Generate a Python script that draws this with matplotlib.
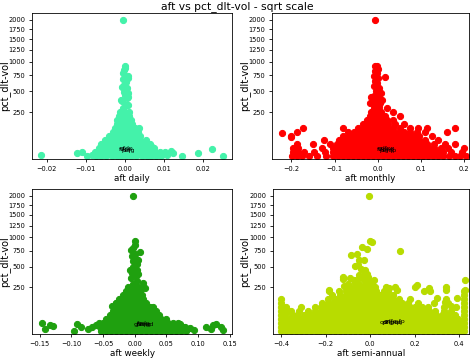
import numpy as np
import matplotlib
matplotlib.use("Agg")
import matplotlib.pyplot as plt

TITLE = "aft vs pct_dlt-vol - sqrt scale"
YLABEL = "pct_dlt-vol"
Y_TICKS = [250, 500, 750, 1000, 1250, 1500, 1750, 2000]
ROW_Y = [4.5, 11.5, 21.5, 35, 51, 70, 93, 119, 148, 180, 215, 254]

# ---------------- daily ----------------
daily_rows_x = [
    [-0.0073, -0.0060, -0.0047, -0.0034, -0.0021, -0.0009, 0.0004, 0.0017, 0.0030, 0.0043, 0.0056, 0.0068, 0.0081, 0.0094],
    [-0.0077, -0.0064, -0.0051, -0.0038, -0.0026, -0.0013, 0.0000, 0.0013, 0.0026, 0.0038, 0.0051, 0.0064, 0.0077, 0.0090, 0.0103],
    [-0.0066, -0.0053, -0.0040, -0.0027, -0.0015, -0.0002, 0.0011, 0.0024, 0.0037, 0.0050, 0.0063, 0.0076],
    [-0.0060, -0.0047, -0.0034, -0.0021, -0.0008, 0.0005, 0.0018, 0.0031, 0.0044, 0.0057, 0.0064],
    [-0.0051, -0.0038, -0.0025, -0.0012, 0.0001, 0.0014, 0.0027, 0.0040, 0.0055],
    [-0.0040, -0.0027, -0.0014, -0.0001, 0.0012, 0.0025, 0.0038],
    [-0.0030, -0.0017, -0.0004, 0.0009, 0.0022, 0.0034],
    [-0.0026, -0.0013, 0.0000, 0.0013, 0.0026, 0.0037],
    [-0.0021, -0.0008, 0.0005, 0.0018],
    [-0.0019, -0.0006, 0.0007, 0.0016],
    [-0.0014, -0.0002, 0.0011],
    [-0.0012, 0.0001, 0.0010],
]
daily_extra = [
    (-0.0004, 290), (0.0003, 330), (-0.0006, 370), (0.0005, 410), (0.0000, 450),
    (-0.0003, 495), (0.0006, 540), (-0.0002, 590), (0.0002, 640), (-0.0005, 690),
    (0.0008, 740), (-0.0004, 790), (-0.0003, 840), (0.0000, 880), (0.0001, 920),
    (0.0008, 700), (-0.0008, 560), (0.0008, 480), (-0.0009, 380), (0.0009, 320),
    (0.0008, 420), (-0.0008, 260), (-0.0004, 2000),
    (-0.0214, 5), (-0.0122, 8.8), (-0.0111, 11), (-0.0097, 3.7), (0.0118, 13.5),
    (0.0124, 8), (0.0148, 4.5), (0.0188, 9), (0.0223, 19), (0.0252, 3.7),
    (0.0071, 25), (-0.0085, 6), (0.0108, 5),
]
daily_labels = [("fdgn", 0.0003, 17), ("plqg", 0.0008, 15), ("gfdp", 0.0005, 19)]

# ---------------- monthly ----------------
monthly_rows_x = [
    [-0.198, -0.187, -0.176, -0.16, -0.14, -0.12, -0.103, -0.092, -0.080, -0.069, -0.057, -0.046, -0.034, -0.023, -0.011, 0.000, 0.012, 0.023, 0.035, 0.046, 0.058, 0.069, 0.081, 0.092, 0.104, 0.115, 0.127, 0.138, 0.150, 0.165, 0.178, 0.19, 0.204],
    [-0.196, -0.184, -0.17, -0.148, -0.122, -0.105, -0.094, -0.083, -0.071, -0.060, -0.048, -0.037, -0.025, -0.014, -0.002, 0.009, 0.021, 0.032, 0.044, 0.055, 0.067, 0.078, 0.090, 0.101, 0.113, 0.124, 0.136, 0.15, 0.17, 0.195],
    [-0.197, -0.185, -0.13, -0.105, -0.09, -0.077, -0.066, -0.054, -0.043, -0.031, -0.020, -0.008, 0.003, 0.015, 0.026, 0.038, 0.049, 0.061, 0.072, 0.084, 0.095, 0.107, 0.118, 0.13, 0.145, 0.162, 0.2],
    [-0.188, -0.15, -0.11, -0.095, -0.083, -0.071, -0.060, -0.048, -0.037, -0.025, -0.014, -0.002, 0.009, 0.021, 0.032, 0.044, 0.055, 0.067, 0.078, 0.090, 0.101, 0.113, 0.13, 0.155, 0.178],
    [-0.125, -0.09, -0.077, -0.066, -0.054, -0.043, -0.031, -0.020, -0.008, 0.003, 0.015, 0.026, 0.038, 0.049, 0.061, 0.072, 0.084, 0.095, 0.11, 0.14],
    [-0.2, -0.08, -0.068, -0.057, -0.045, -0.034, -0.022, -0.011, 0.000, 0.012, 0.023, 0.035, 0.046, 0.058, 0.069, 0.081, 0.095, 0.125],
    [-0.188, -0.07, -0.055, -0.043, -0.032, -0.020, -0.009, 0.003, 0.014, 0.026, 0.037, 0.049, 0.06, 0.075, 0.09, 0.11, 0.16],
    [-0.174, -0.081, -0.045, -0.033, -0.022, -0.010, 0.001, 0.013, 0.024, 0.036, 0.05, 0.075, 0.092, 0.113, 0.178],
    [-0.035, -0.023, -0.012, 0.000, 0.011, 0.023, 0.04, 0.06],
    [-0.025, -0.013, -0.002, 0.01, 0.022, 0.035],
    [-0.018, -0.007, 0.005, 0.017, 0.05],
    [-0.015, -0.004, 0.008, 0.036],
]
monthly_extra = [
    (-0.223, 85), (-0.2, 63), (0.021, 290), (-0.006, 2000), (-0.006, 920), (-0.002, 920),
    (0.0154, 720), (-0.008, 290), (0.002, 300), (-0.01, 340), (0.004, 350), (-0.006, 390),
    (0.003, 410), (-0.009, 440), (0.0, 470), (-0.005, 510), (0.002, 540), (-0.008, 580),
    (-0.001, 620), (-0.006, 660), (0.001, 700), (-0.008, 740), (-0.003, 790), (-0.006, 830),
    (0.0, 860), (-0.018, 350), (0.01, 390), (-0.017, 420), (0.008, 470),
]
monthly_labels = [("fdgnq", 0.018, 17), ("plgqp", 0.024, 15), ("gdfpn", 0.02, 19)]

# ---------------- weekly ----------------
weekly_rows_x = [
    [-0.0526, -0.0447, -0.0368, -0.0289, -0.0211, -0.0132, -0.0053, 0.0026, 0.0105, 0.0184, 0.0263, 0.0342, 0.0421, 0.0500, 0.0579, 0.0658, 0.0737, 0.0816],
    [-0.055, -0.047, -0.039, -0.031, -0.024, -0.016, -0.008, 0.000, 0.008, 0.016, 0.024, 0.032, 0.039, 0.047, 0.055, 0.063, 0.071, 0.079],
    [-0.050, -0.042, -0.034, -0.026, -0.018, -0.011, -0.003, 0.005, 0.013, 0.021, 0.029, 0.037, 0.045, 0.053, 0.061, 0.069],
    [-0.045, -0.037, -0.029, -0.021, -0.013, -0.005, 0.003, 0.011, 0.019, 0.026, 0.034, 0.042, 0.05],
    [-0.039, -0.031, -0.024, -0.016, -0.008, 0.000, 0.008, 0.016, 0.024, 0.032, 0.039],
    [-0.034, -0.026, -0.018, -0.011, -0.003, 0.005, 0.013, 0.021, 0.029, 0.034],
    [-0.032, -0.024, -0.016, -0.008, 0.000, 0.008, 0.016, 0.024, 0.029],
    [-0.029, -0.021, -0.013, -0.005, 0.003, 0.011, 0.018],
    [-0.024, -0.016, -0.008, 0.000, 0.008, 0.013],
    [-0.018, -0.010, -0.002, 0.006, 0.011],
    [-0.013, -0.005, 0.003, 0.008],
    [-0.010, -0.002, 0.006, 0.013],
]
weekly_extra = [
    (-0.003, 290), (0.004, 320), (-0.005, 350), (0.002, 380), (-0.004, 420), (0.003, 460),
    (-0.002, 500), (0.004, 540), (-0.003, 580), (0.002, 620), (-0.004, 660), (0.001, 700),
    (-0.006, 760), (-0.002, 800), (0.0, 850), (0.0, 920), (0.0079, 732), (0.013, 293),
    (0.016, 242), (-0.017, 107), (-0.0026, 2000), (0.006, 400), (-0.007, 460), (0.006, 600),
    (-0.147, 21.6), (-0.141, 7.9), (-0.134, 16.6), (-0.129, 12.5), (-0.095, 4.8), (-0.091, 18),
    (-0.085, 12), (-0.074, 7), (-0.061, 15), (-0.057, 20), (-0.067, 10), (0.071, 18),
    (0.076, 12), (0.087, 9), (0.093, 6), (0.113, 12), (0.120, 8), (0.124, 15), (0.129, 18),
    (0.137, 10), (0.14, 5), (-0.03, 119), (-0.035, 100),
]
weekly_labels = [("gfdnq", 0.012, 18), ("plqgd", 0.016, 16), ("fgdp", 0.014, 20)]

# ---------------- semi-annual ----------------
semi_rows_x = [
    [-0.40, -0.378, -0.356, -0.334, -0.312, -0.29, -0.268, -0.246, -0.224, -0.202, -0.18, -0.158, -0.136, -0.114, -0.092, -0.07, -0.048, -0.026, -0.004, 0.018, 0.04, 0.062, 0.084, 0.106, 0.128, 0.15, 0.172, 0.194, 0.216, 0.238, 0.26, 0.282, 0.304, 0.326, 0.348, 0.37, 0.392, 0.41, 0.422],
    [-0.40, -0.385, -0.364, -0.342, -0.32, -0.298, -0.276, -0.254, -0.232, -0.21, -0.188, -0.166, -0.144, -0.122, -0.1, -0.078, -0.056, -0.034, -0.012, 0.01, 0.032, 0.054, 0.076, 0.098, 0.12, 0.142, 0.164, 0.186, 0.208, 0.23, 0.252, 0.274, 0.296, 0.318, 0.34, 0.362, 0.384, 0.406, 0.422],
    [-0.40, -0.375, -0.35, -0.33, -0.305, -0.28, -0.26, -0.24, -0.215, -0.195, -0.17, -0.15, -0.13, -0.108, -0.086, -0.064, -0.042, -0.02, 0.002, 0.024, 0.046, 0.068, 0.09, 0.112, 0.134, 0.156, 0.178, 0.2, 0.222, 0.244, 0.266, 0.288, 0.31, 0.332, 0.354, 0.376, 0.398, 0.422],
    [-0.40, -0.38, -0.36, -0.338, -0.316, -0.294, -0.27, -0.248, -0.225, -0.2, -0.178, -0.156, -0.134, -0.112, -0.09, -0.068, -0.046, -0.024, -0.002, 0.02, 0.042, 0.064, 0.086, 0.108, 0.13, 0.152, 0.174, 0.196, 0.218, 0.24, 0.262, 0.284, 0.306, 0.328, 0.35, 0.372, 0.394, 0.422],
    [-0.40, -0.385, -0.35, -0.33, -0.3, -0.28, -0.26, -0.235, -0.21, -0.19, -0.168, -0.146, -0.124, -0.102, -0.08, -0.058, -0.036, -0.014, 0.008, 0.03, 0.052, 0.074, 0.096, 0.118, 0.14, 0.162, 0.184, 0.206, 0.228, 0.25, 0.272, 0.294, 0.32, 0.35, 0.38, 0.422],
    [-0.40, -0.375, -0.355, -0.32, -0.28, -0.25, -0.22, -0.198, -0.176, -0.154, -0.132, -0.11, -0.088, -0.066, -0.044, -0.022, 0.0, 0.022, 0.044, 0.066, 0.088, 0.11, 0.132, 0.154, 0.176, 0.198, 0.22, 0.242, 0.264, 0.29, 0.33, 0.36, 0.422],
    [-0.40, -0.38, -0.31, -0.25, -0.22, -0.198, -0.176, -0.154, -0.132, -0.11, -0.088, -0.066, -0.044, -0.022, 0.0, 0.022, 0.044, 0.066, 0.088, 0.11, 0.132, 0.154, 0.176, 0.2, 0.23, 0.26, 0.33, 0.385, 0.422],
    [-0.40, -0.215, -0.19, -0.168, -0.146, -0.124, -0.102, -0.08, -0.058, -0.036, -0.014, 0.008, 0.03, 0.052, 0.074, 0.096, 0.118, 0.14, 0.17, 0.215, 0.285, 0.35, 0.422],
    [-0.40, -0.19, -0.16, -0.138, -0.116, -0.094, -0.072, -0.05, -0.028, -0.006, 0.016, 0.038, 0.06, 0.082, 0.104, 0.13, 0.18, 0.34, 0.422],
    [-0.17, -0.135, -0.11, -0.088, -0.066, -0.044, -0.022, 0.0, 0.022, 0.044, 0.07, 0.1, 0.422],
    [-0.185, -0.14, -0.11, -0.085, -0.062, -0.04, -0.018, 0.004, 0.026, 0.06, 0.08, 0.24, 0.422],
    [-0.09, -0.065, -0.044, -0.022, 0.0, 0.022, 0.07, 0.11, 0.2, 0.34],
]
semi_extra = [
    (-0.123, 369), (-0.123, 340), (-0.187, 226), (0.082, 242), (0.12, 226), (0.209, 276),
    (0.262, 242), (0.27, 211), (0.341, 226), (0.425, 330), (0.425, 226), (-0.07, 509),
    (-0.055, 523), (-0.022, 454), (-0.03, 369), (-0.09, 349), (-0.007, 330), (-0.037, 818),
    (-0.015, 789), (-0.087, 676), (-0.06, 692), (-0.052, 597), (-0.03, 597), (0.132, 745),
    (0.0, 924), (0.007, 916), (-0.007, 2000), (-0.075, 330), (-0.045, 280), (0.007, 293),
    (-0.1, 290), (-0.07, 300), (-0.02, 300), (0.005, 290), (-0.06, 330), (-0.035, 340),
    (-0.01, 360), (-0.05, 390), (-0.025, 410), (-0.04, 470), (-0.015, 400), (0.015, 330),
    (-0.12, 260), (0.30, 154), (0.335, 129), (0.36, 100), (0.39, 154),
]
semi_labels = [("qdfgnp", 0.09, 23), ("ptlgdq", 0.1, 21), ("gdfq.fp", 0.11, 24)]

panels = [
    ("aft daily", daily_rows_x, daily_extra, daily_labels, "#44f2aa",
     (-0.0238, 0.0275), [-0.02, -0.01, 0.0, 0.01, 0.02], ["\u22120.02", "\u22120.01", "0.00", "0.01", "0.02"],
     [32, 13, 232, 159], 10),
    ("aft monthly", monthly_rows_x, monthly_extra, monthly_labels, "#ff0000",
     (-0.245, 0.2108), [-0.2, -0.1, 0.0, 0.1, 0.2], ["\u22120.2", "\u22120.1", "0.0", "0.1", "0.2"],
     [272, 13, 469, 159], 250),
    ("aft weekly", weekly_rows_x, weekly_extra, weekly_labels, "#1fa00f",
     (-0.162, 0.1537), [-0.15, -0.10, -0.05, 0.0, 0.05, 0.10, 0.15],
     ["\u22120.15", "\u22120.10", "\u22120.05", "0.00", "0.05", "0.10", "0.15"],
     [32, 189, 232, 334], 10),
    ("aft semi-annual", semi_rows_x, semi_extra, semi_labels, "#b8dc00",
     (-0.437, 0.443), [-0.4, -0.2, 0.0, 0.2, 0.4], ["\u22120.4", "\u22120.2", "0.0", "0.2", "0.4"],
     [273, 189, 469, 334], 250),
]

W, H = 474, 358
fig = plt.figure(figsize=(W / 74, H / 74), dpi=74)


def fwd(v):
    return np.sqrt(np.clip(v, 0, None))


def inv(v):
    return np.asarray(v) ** 2


for name, rows_x, extra, labels, color, xlim, xt, xtl, box, ylab_px in panels:
    l, t, r, b = box
    ax = fig.add_axes([l / W, 1 - b / H, (r - l) / W, (b - t) / H])
    xs, ys = [], []
    for yv, row in zip(ROW_Y, rows_x):
        xs += row
        ys += [yv] * len(row)
    xs += [p[0] for p in extra]
    ys += [p[1] for p in extra]
    ax.scatter(xs, ys, s=36, color=color, zorder=2)
    for txt, tx, ty in labels:
        ax.text(tx, ty, txt, fontsize=6, color="black", ha="center", va="center", zorder=3)
    ax.set_yscale("function", functions=(fwd, inv))
    ax.set_ylim(1.21, 2200)
    ax.set_xlim(*xlim)
    ax.set_yticks(Y_TICKS)
    ax.set_yticklabels([str(v) for v in Y_TICKS])
    ax.set_xticks(xt)
    ax.set_xticklabels(xtl)
    ax.tick_params(labelsize=6.5, length=3)
    ax.set_xlabel(name, fontsize=8.5, labelpad=2)
    ax.set_ylabel(YLABEL, fontsize=9.5)
    ax.yaxis.set_label_coords((ylab_px - l) / (r - l), 0.5)

fig.suptitle(TITLE, fontsize=10.5, y=0.998, va="top")
fig.savefig("out.png", dpi=74)
